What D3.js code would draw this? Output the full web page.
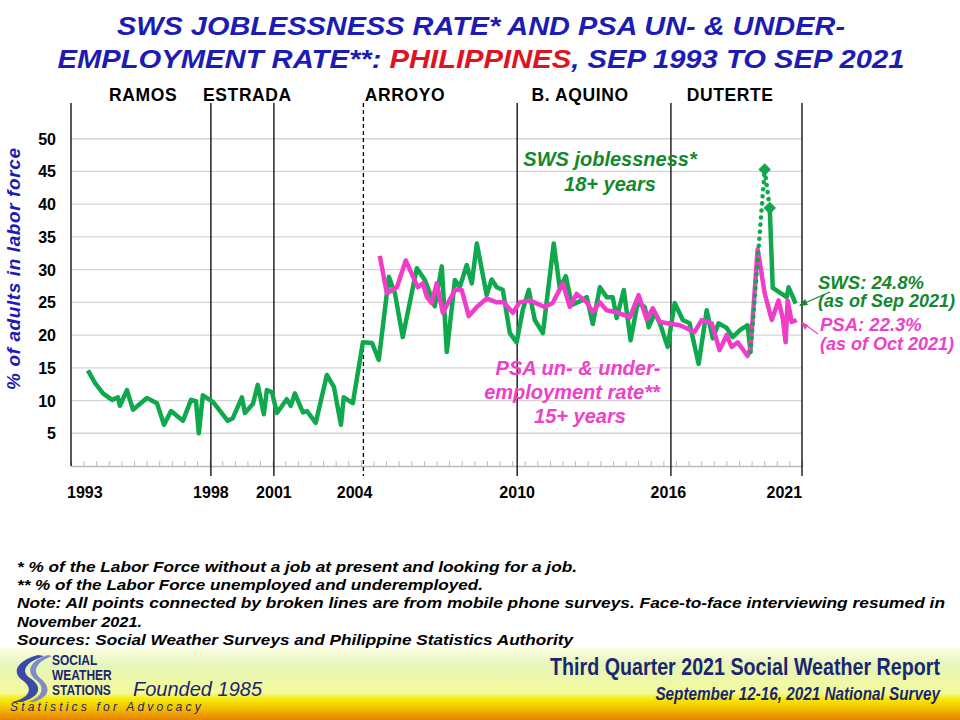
<!DOCTYPE html>
<html><head><meta charset="utf-8">
<script src="https://cdn.jsdelivr.net/npm/d3@7"></script>
<style>body{margin:0;background:#fff}text{font-family:Arial,"Liberation Sans",sans-serif}</style>
</head><body><svg id="c" width="960" height="720"></svg>
<script>
// ---- data ----
const swsT=[1993.67,1993.95,1994.27,1994.63,1994.86,1994.94,1995.22,1995.46,1996.01,1996.41,1996.69,1996.97,1997.44,1997.76,1997.96,1998.07,1998.23,1998.63,1999.22,1999.42,1999.78,1999.90,2000.22,2000.41,2000.65,2000.77,2000.97,2001.17,2001.56,2001.72,2001.88,2002.20,2002.36,2002.71,2003.15,2003.43,2003.71,2003.82,2004.18,2004.58,2004.94,2005.21,2005.61,2005.85,2006.16,2006.72,2007.04,2007.43,2007.71,2007.91,2008.23,2008.42,2008.70,2008.90,2009.10,2009.49,2009.69,2009.89,2010.13,2010.41,2010.68,2010.92,2011.16,2011.40,2011.72,2012.15,2012.39,2012.63,2012.87,2013.26,2013.46,2013.70,2013.98,2014.25,2014.49,2014.65,2014.93,2015.20,2015.48,2015.76,2015.92,2016.16,2016.36,2016.67,2016.95,2017.27,2017.54,2017.90,2018.22,2018.46,2018.69,2019.01,2019.25,2019.55,2019.84,2019.96];
const swsV=[14.6,12.7,11.1,10.1,10.5,9.2,11.6,8.6,10.4,9.6,6.3,8.4,6.9,10.1,9.9,5.0,10.8,9.8,6.9,7.3,10.5,8.1,9.5,12.4,7.9,11.6,11.3,8.1,10.2,9.2,11.1,8.2,8.4,6.6,13.9,12.1,6.3,10.5,9.6,18.9,18.8,16.2,28.9,26.4,19.7,30.2,28.4,24.4,30.5,17.4,28.4,27.3,30.7,27.9,34.0,26.1,28.5,27.3,26.9,20.3,18.9,23.8,26.9,22.3,20.3,34.0,27.2,29.0,24.6,25.3,25.8,21.7,27.3,25.8,25.8,22.6,26.9,19.2,24.9,24.3,21.2,23.4,21.8,18.2,24.9,22.3,21.8,15.6,23.8,19.5,21.8,21.1,19.7,20.8,21.5,17.4];
const mobT=[2019.96,2020.52,2020.72];
const mobV=[17.4,45.3,39.4];
const sws2T=[2020.72,2020.84,2021.39,2021.47,2021.75];
const sws2V=[39.4,27.2,25.8,27.3,24.8];
const psaT=[2005.25,2005.53,2005.93,2006.28,2006.76,2006.96,2007.12,2007.31,2007.51,2007.75,2008.23,2008.50,2008.78,2009.10,2009.49,2009.89,2010.17,2010.53,2010.80,2011.20,2011.79,2012.11,2012.51,2012.79,2013.06,2013.46,2013.70,2013.98,2014.25,2014.65,2015.17,2015.52,2015.84,2016.08,2016.36,2017.15,2017.74,2018.02,2018.42,2018.73,2019.01,2019.21,2019.45,2019.84,2019.96,2020.24,2020.52,2020.80,2021.07,2021.23,2021.35,2021.43,2021.59,2021.79];
const psaV=[32.1,26.4,27.3,31.4,27.3,27.9,25.8,24.9,27.9,23.4,26.9,26.9,22.9,24.3,25.6,25.0,25.0,23.4,25.0,25.3,24.3,24.9,27.9,24.3,26.3,25.0,23.5,25.0,23.8,23.5,22.7,26.1,22.4,24.1,22.0,21.5,20.5,22.3,21.8,17.7,20.0,18.2,18.9,16.8,18.0,33.1,26.4,22.3,25.3,22.7,18.9,25.3,22.0,22.3];
const yTicks=[5,10,15,20,25,30,35,40,45,50];
const xLabels=["1993","1998","2001","2004","2010","2016","2021"];
const xLabelT=[1993.55,1998.55,2001.05,2004.25,2010.7,2016.7,2021.3];
const eraLines=[1993,1998.55,2001.05,2004.6,2010.7,2016.8,2022];
const eraDash=[false,false,false,true,false,false,false];
const eraNames=["RAMOS","ESTRADA","ARROYO","B. AQUINO","DUTERTE"];
const eraNameT=[1995.86,2000.0,2006.25,2013.2,2019.15];

const svg=d3.select("#c");
const x=d3.scaleLinear().domain([1993,2022]).range([71,802]);
const y=d3.scaleLinear().domain([0,55]).range([466,106]);
const BLUE="#1c1cb4",GREEN="#0fa84c",GDARK="#13882c",PINK="#f03cc8",PTXT="#ee40c8";

const defs=svg.append("defs");
const g1=defs.append("linearGradient").attr("id","ft").attr("x1",0).attr("y1",0).attr("x2",0).attr("y2",1);
[[0,"#fbfde0"],[0.25,"#e6f5b8"],[0.62,"#f4fa9a"],[0.72,"#f6e800"],[0.86,"#f2b800"],[1,"#e88000"]].forEach(s=>g1.append("stop").attr("offset",s[0]).attr("stop-color",s[1]));
svg.append("rect").attr("x",0).attr("y",648).attr("width",960).attr("height",72).attr("fill","url(#ft)");

const t1=svg.append("text").attr("x",481).attr("y",35).attr("text-anchor","middle").attr("font-size",26).attr("font-weight","bold").attr("font-style","italic").attr("fill",BLUE).attr("textLength",728).attr("lengthAdjust","spacingAndGlyphs");
t1.text("SWS JOBLESSNESS RATE* AND PSA UN- & UNDER-");
const t2=svg.append("text").attr("x",481).attr("y",68).attr("text-anchor","middle").attr("font-size",26).attr("font-weight","bold").attr("font-style","italic").attr("fill",BLUE).attr("textLength",847).attr("lengthAdjust","spacingAndGlyphs");
t2.append("tspan").text("EMPLOYMENT RATE**: ");
t2.append("tspan").attr("fill","#e0141e").text("PHILIPPINES");
t2.append("tspan").text(", SEP 1993 TO SEP 2021");

svg.append("g").selectAll("line").data(yTicks).join("line").attr("x1",71).attr("x2",802).attr("y1",d=>y(d)).attr("y2",d=>y(d)).attr("stroke","#d4d4d4").attr("stroke-width",1.3);
svg.append("g").selectAll("text").data(yTicks).join("text").attr("x",56).attr("y",d=>y(d)+6).attr("text-anchor","end").attr("font-size",16).attr("font-weight","bold").text(d=>d);
svg.append("text").attr("transform","translate(20,269) rotate(-90)").attr("text-anchor","middle").attr("font-size",19).attr("font-weight","bold").attr("font-style","italic").attr("fill",BLUE).attr("textLength",242).text("% of adults in labor force");
const xa=svg.append("g").attr("transform","translate(0,466)").call(d3.axisBottom(x).tickValues(d3.range(1993,2022,0.5)).tickSize(-5).tickFormat(""));
xa.select(".domain").attr("stroke","#bbb").attr("stroke-width",1.3);
xa.selectAll(".tick line").attr("stroke","#bbb");
svg.append("g").selectAll("text").data(xLabels).join("text").attr("x",(d,i)=>x(xLabelT[i])).attr("y",498).attr("text-anchor","middle").attr("font-size",16).attr("font-weight","bold").text(d=>d);
svg.append("g").selectAll("line").data(eraLines).join("line").attr("x1",d=>x(d)).attr("x2",d=>x(d)).attr("y1",103).attr("y2",(d,i)=>i==0?466:476).attr("stroke","#000").attr("stroke-width",1.3).attr("stroke-dasharray",(d,i)=>eraDash[i]?"4,3":null);
svg.append("g").selectAll("text").data(eraNames).join("text").attr("x",(d,i)=>x(eraNameT[i])).attr("y",101).attr("text-anchor","middle").attr("font-size",17.5).attr("font-weight","bold").attr("letter-spacing",0.6).text(d=>d);

const line=d3.line().x(d=>x(d[0])).y(d=>y(d[1]));
const zip=(a,b)=>a.map((t,i)=>[t,b[i]]);
svg.append("path").attr("d",line(zip(swsT,swsV))).attr("fill","none").attr("stroke",GREEN).attr("stroke-width",4.5).attr("stroke-linejoin","round");
svg.append("path").attr("d",line(zip(sws2T,sws2V))).attr("fill","none").attr("stroke",GREEN).attr("stroke-width",4.5).attr("stroke-linejoin","round");
svg.append("path").attr("d",line(zip(psaT,psaV))).attr("fill","none").attr("stroke",PINK).attr("stroke-width",4.5).attr("stroke-linejoin","round");
svg.append("path").attr("d",line(zip(mobT,mobV))).attr("fill","none").attr("stroke",GREEN).attr("stroke-width",4.5).attr("stroke-linecap","round").attr("stroke-dasharray","0.1,7");
svg.append("g").selectAll("path").data(zip(mobT,mobV).slice(1)).join("path").attr("d",d3.symbol(d3.symbolDiamond2,100)).attr("transform",d=>`translate(${x(d[0])},${y(d[1])})`).attr("fill",GREEN);

function txt(s,xx,yy,col,size,anchor){return svg.append("text").attr("x",xx).attr("y",yy).attr("text-anchor",anchor||"middle").attr("font-size",size).attr("font-weight","bold").attr("font-style","italic").attr("fill",col).text(s);}
txt("SWS joblessness*",610,166,GDARK,20);
txt("18+ years",610,191,GDARK,20);
txt("PSA un- & under-",578,375,PTXT,20);
txt("employment rate**",572,399,PTXT,20);
txt("15+ years",580,423,PTXT,20);
txt("SWS: 24.8%",818,289,GDARK,18.5,"start");
txt("(as of Sep 2021)",818,307,GDARK,18,"start");
txt("PSA: 22.3%",820,331,PTXT,18.5,"start");
txt("(as of Oct 2021)",820,350,PTXT,18,"start");
svg.append("line").attr("x1",830).attr("y1",292).attr("x2",800).attr("y2",305).attr("stroke",GDARK).attr("stroke-width",1.3);
svg.append("path").attr("d","M799,306 l9,-1 l-3,-6 z").attr("fill",GDARK);
svg.append("line").attr("x1",818).attr("y1",334).attr("x2",803).attr("y2",323).attr("stroke",PTXT).attr("stroke-width",1.3);
svg.append("path").attr("d","M801,322 l4,8 l3,-5 z").attr("fill",PTXT);

const notes=["* % of the Labor Force without  a job at present  and looking  for a job.","** % of the Labor Force unemployed  and underemployed.","Note: All points connected  by broken lines are from mobile phone surveys. Face-to-face interviewing resumed in","November  2021.","Sources: Social Weather Surveys and Philippine Statistics Authority"];
const noteLen=[560,466,928,125,556];
svg.append("g").selectAll("text").data(notes).join("text").attr("x",17).attr("y",(d,i)=>572+i*18.2).attr("font-size",14.5).attr("font-weight","bold").attr("font-style","italic").attr("textLength",(d,i)=>noteLen[i]).attr("lengthAdjust","spacingAndGlyphs").text(d=>d);

svg.append("text").attr("transform","translate(940,675) scale(0.82,1)").attr("text-anchor","end").attr("font-size",24).attr("font-weight","bold").attr("fill","#1a2670").text("Third Quarter 2021 Social Weather Report");
svg.append("text").attr("transform","translate(940,700) scale(0.85,1)").attr("text-anchor","end").attr("font-size",18).attr("font-weight","bold").attr("font-style","italic").attr("fill","#1a2670").text("September 12-16, 2021 National Survey");
svg.append("path").attr("d","M38,655 C20,660 10,670 22,680 C34,688 30,698 12,702 L22,702 C42,696 42,686 30,678 C20,671 26,662 44,656 Z").attr("fill","#3a4aa8");
svg.append("path").attr("d","M48,655 C32,660 24,670 36,680 C46,688 42,697 28,702 L34,702 C52,696 50,686 40,678 C32,671 36,662 52,656 Z").attr("fill","#7f8cc8");
[["SOCIAL",665],["WEATHER",680],["STATIONS",695]].forEach(d=>svg.append("text").attr("x",52).attr("y",d[1]).attr("font-size",15).attr("font-weight","bold").attr("fill","#1a2670").attr("font-family","Liberation Serif, serif").attr("transform",`translate(${52*0.2},0) scale(0.8,1)`).text(d[0]));
svg.append("text").attr("x",133).attr("y",696).attr("font-size",20).attr("font-style","italic").attr("fill","#1a2670").attr("font-family","Liberation Serif, serif").text("Founded 1985");
svg.append("text").attr("x",10).attr("y",711).attr("font-size",12).attr("font-style","italic").attr("fill","#1a2670").attr("letter-spacing",3.2).attr("font-family","Liberation Serif, serif").text("Statistics for Advocacy");
</script></body></html>
